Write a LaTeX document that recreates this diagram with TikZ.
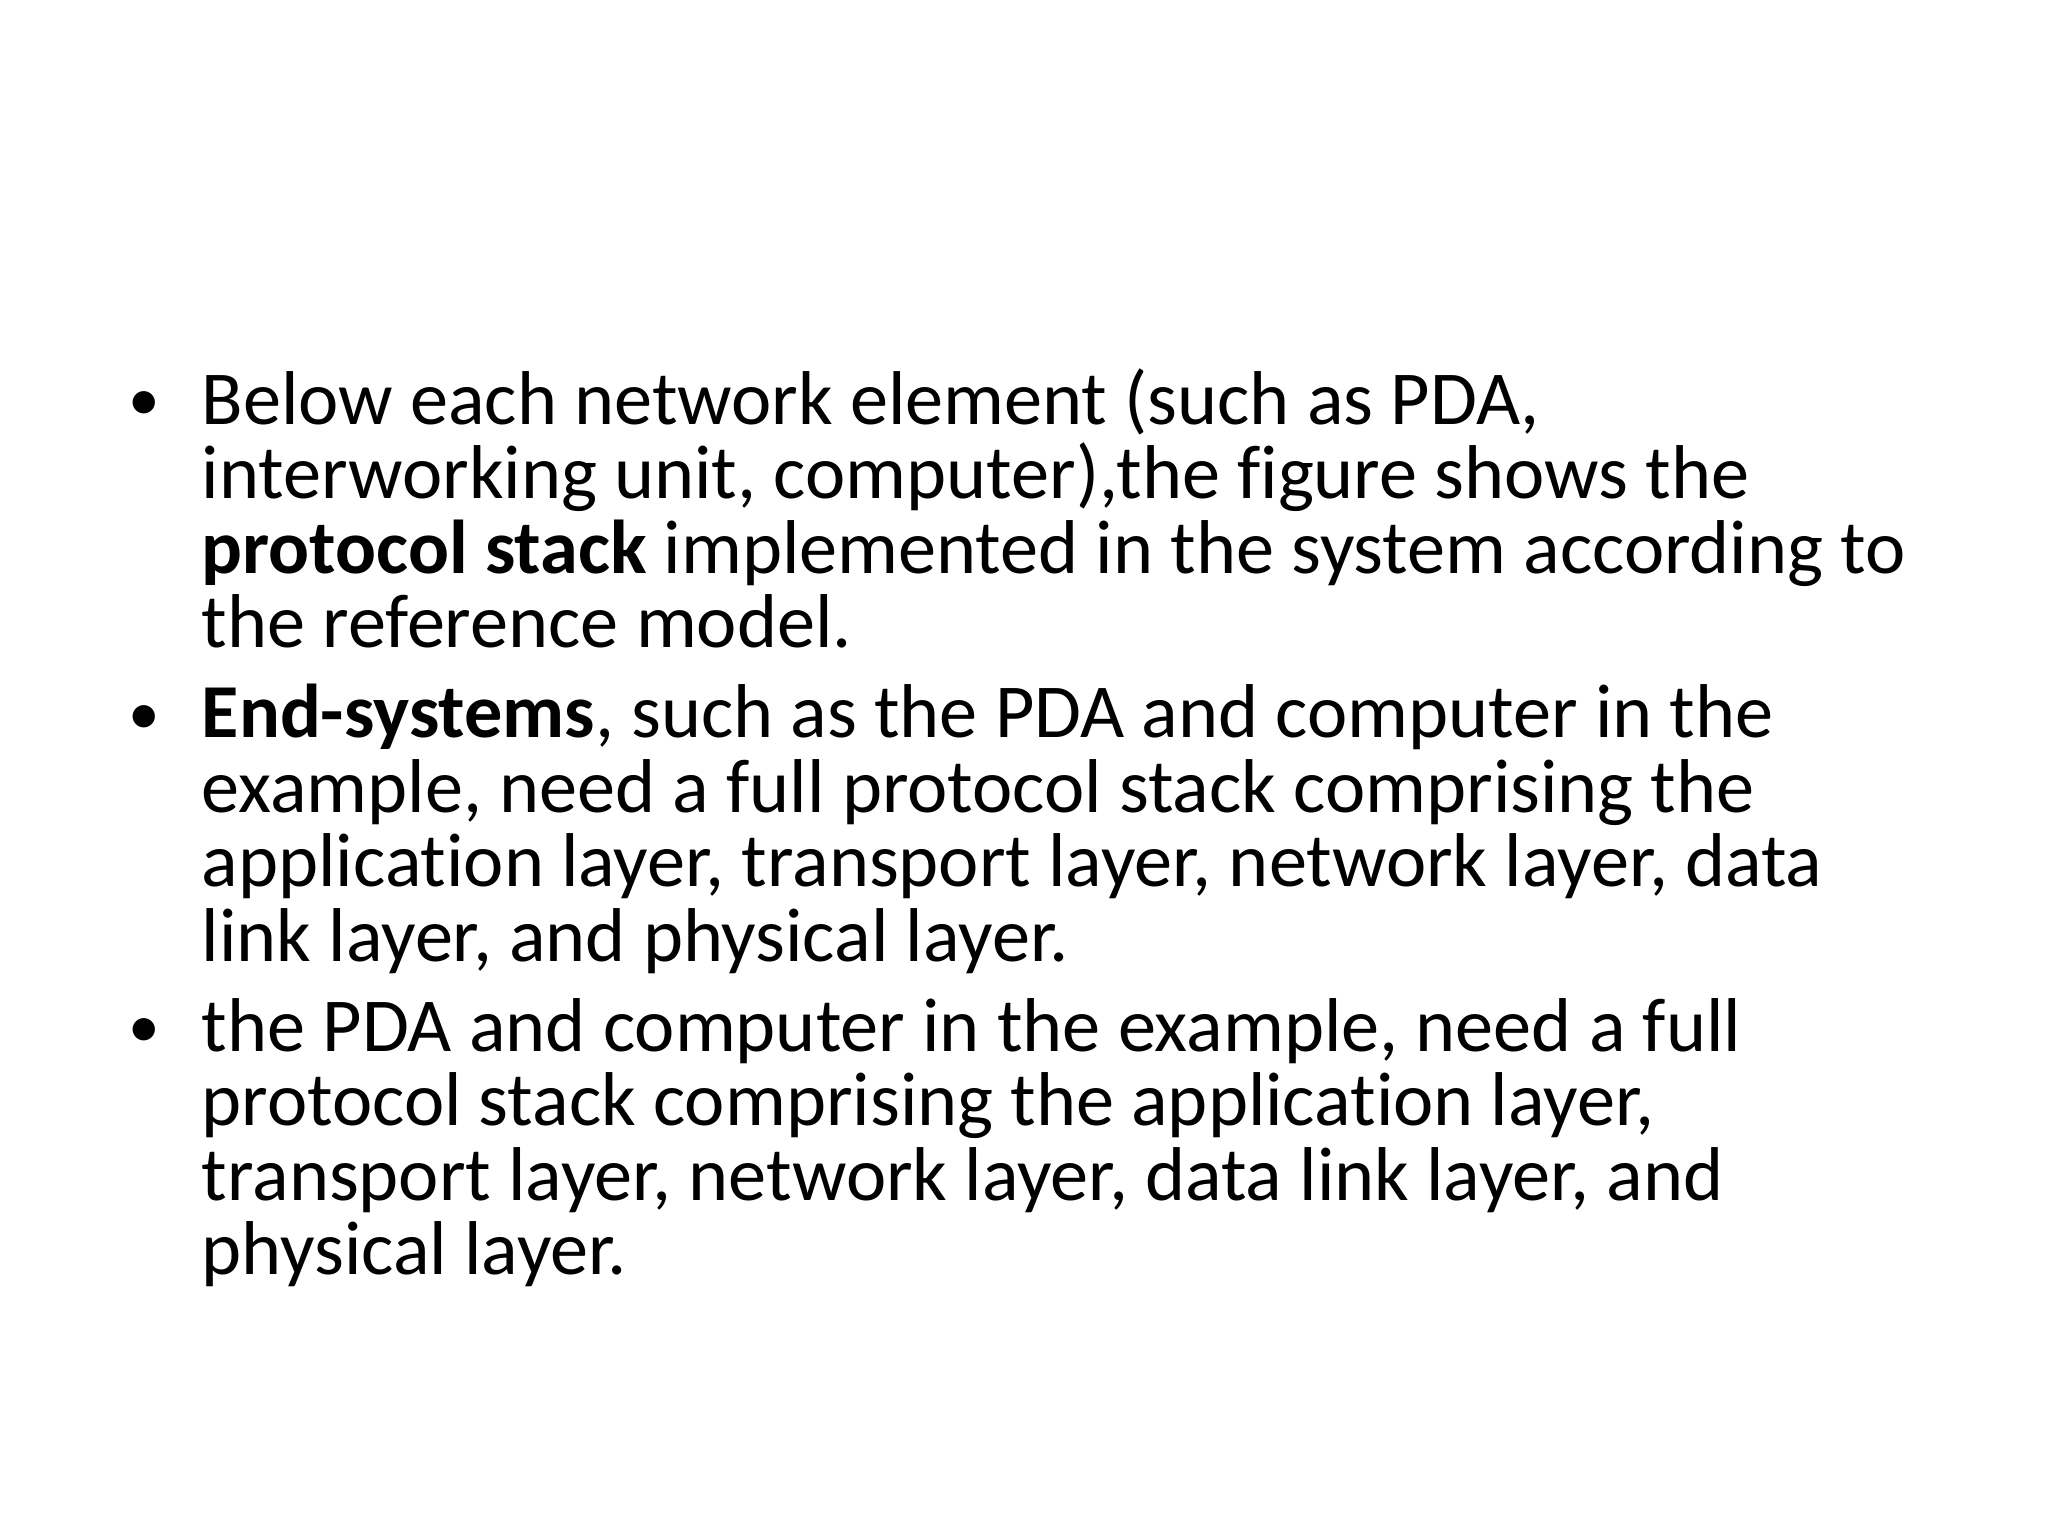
\documentclass[tikz,border=0pt]{standalone}
\usepackage{fontspec}
\setmainfont{Carlito}[Ligatures={NoCommon}]
\begin{document}
\begin{tikzpicture}[x=0.013061cm,y=-0.013061cm,
  ln/.style={anchor=base west,inner sep=0pt,font=\fontsize{21.7pt}{24pt}\selectfont},
  bul/.style={anchor=base west,inner sep=0pt,font=\fontsize{18pt}{20pt}\selectfont}]
\useasboundingbox[fill=white] (0,0) rectangle (1568,1176);
\node[bul] (b1) at (98,322) {•};
\node[ln] (l1) at (154,325) {Below each network element (such as PDA,};
\node[ln] (l2) at (154,382) {interworking unit, computer),the figure shows the};
\node[ln] (l3) at (154,439) {\textbf{protocol stack} implemented in the system according to};
\node[ln] (l4) at (154,496) {the reference model.};
\node[bul] (b2) at (98,562) {•};
\node[ln] (l5) at (154,565) {\textbf{End-systems}, such as the PDA and computer in the};
\node[ln] (l6) at (154,622) {example, need a full protocol stack comprising the};
\node[ln] (l7) at (154,679) {application layer, transport layer, network layer, data};
\node[ln] (l8) at (154,736) {link layer, and physical layer.};
\node[bul] (b3) at (98,802) {•};
\node[ln] (l9) at (154,805) {the PDA and computer in the example, need a full};
\node[ln] (l10) at (154,862) {protocol stack comprising the application layer,};
\node[ln] (l11) at (154,919) {transport layer, network layer, data link layer, and};
\node[ln] (l12) at (154,976) {physical layer.};
\end{tikzpicture}
\end{document}
